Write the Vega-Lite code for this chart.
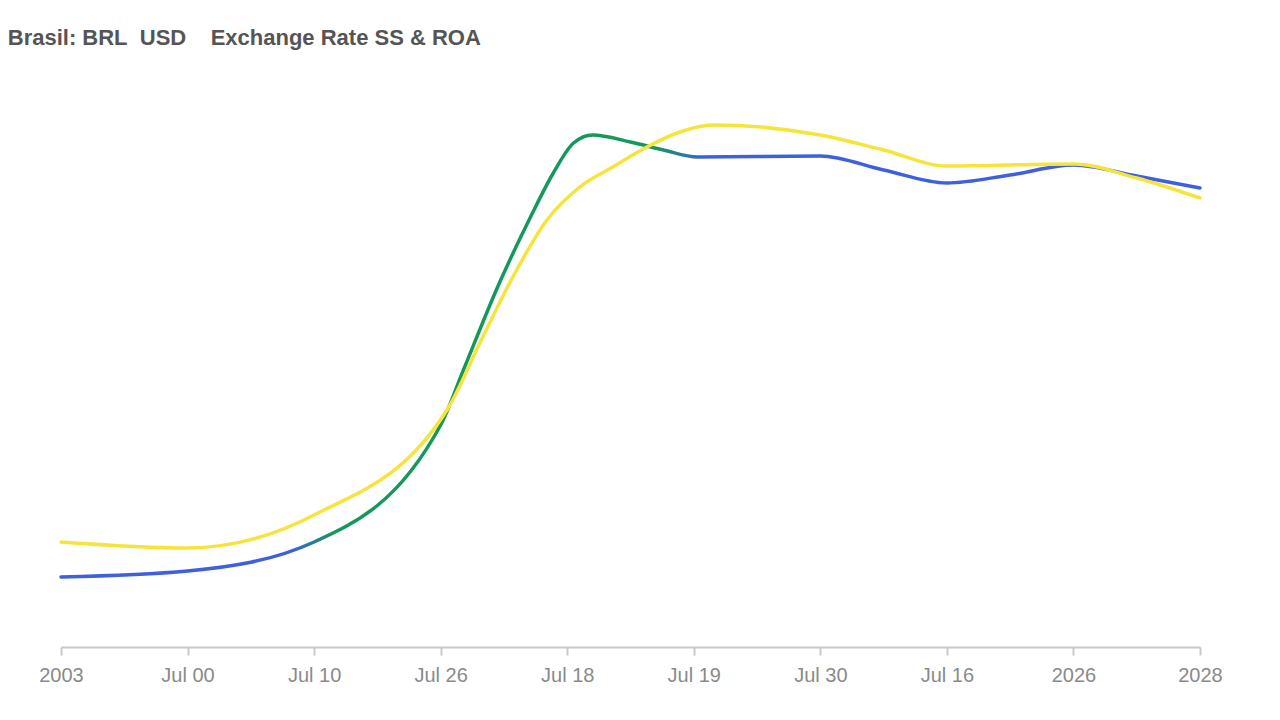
{
  "$schema": "https://vega.github.io/schema/vega-lite/v6.json",
  "autosize": {"type": "none"},
  "width": 1139,
  "height": 567,
  "padding": {"left": 61, "top": 80, "right": 80, "bottom": 73},
  "background": "#ffffff",
  "config": {"view": {"stroke": null}, "font": "Liberation Sans"},
  "title": {
    "text": "Brasil: BRL\u00a0\u00a0USD\u00a0\u00a0\u00a0\u00a0Exchange Rate SS & ROA",
    "anchor": "start",
    "dx": -31,
    "offset": 30,
    "fontSize": 22,
    "fontWeight": "bold",
    "color": "#555555",
    "font": "Liberation Sans"
  },
  "datasets": {
    "main": [
      {"t": 0, "v": 1.70},
      {"t": 1, "v": 1.76},
      {"t": 2, "v": 2.05},
      {"t": 3, "v": 3.22},
      {"t": 3.18, "v": 3.77},
      {"t": 3.45, "v": 4.60},
      {"t": 3.71, "v": 5.30},
      {"t": 3.89, "v": 5.74},
      {"t": 4.05, "v": 6.04},
      {"t": 4.2, "v": 6.12},
      {"t": 4.5, "v": 6.05},
      {"t": 4.76, "v": 5.97},
      {"t": 5.03, "v": 5.90},
      {"t": 6, "v": 5.91},
      {"t": 6.5, "v": 5.77},
      {"t": 7, "v": 5.64},
      {"t": 7.5, "v": 5.72},
      {"t": 8, "v": 5.82},
      {"t": 8.5, "v": 5.71},
      {"t": 9, "v": 5.59}
    ],
    "yellow": [
      {"t": 0, "v": 2.05},
      {"t": 1, "v": 1.99},
      {"t": 2, "v": 2.32},
      {"t": 3.05, "v": 3.37},
      {"t": 3.31, "v": 4.04},
      {"t": 3.57, "v": 4.70},
      {"t": 3.84, "v": 5.27},
      {"t": 4.1, "v": 5.60},
      {"t": 4.36, "v": 5.80},
      {"t": 4.63, "v": 6.00},
      {"t": 4.89, "v": 6.15},
      {"t": 5.15, "v": 6.22},
      {"t": 6, "v": 6.12},
      {"t": 6.5, "v": 5.97},
      {"t": 7, "v": 5.81},
      {"t": 8, "v": 5.83},
      {"t": 8.5, "v": 5.69},
      {"t": 9, "v": 5.49}
    ]
  },
  "layer": [
    {
      "data": {"name": "main"},
      "mark": {
        "type": "line", "interpolate": "monotone", "strokeWidth": 3.5, "strokeCap": "round",
        "color": {
          "gradient": "linear", "x1": 0, "x2": 1, "y1": 0, "y2": 0,
          "stops": [
            {"offset": 0, "color": "#3d5fe0"},
            {"offset": 0.2, "color": "#3d5fe0"},
            {"offset": 0.24, "color": "#14985c"},
            {"offset": 0.52, "color": "#14985c"},
            {"offset": 0.57, "color": "#3d5fe0"},
            {"offset": 1, "color": "#3d5fe0"}
          ]
        }
      },
      "encoding": {
        "x": {
          "field": "t", "type": "quantitative",
          "scale": {"domain": [0, 9], "nice": false, "zero": false},
          "axis": {
            "title": null,
            "values": [0, 1, 2, 3, 4, 5, 6, 7, 8, 9],
            "labelExpr": "['2003','Jul 00','Jul 10','Jul 26','Jul 18','Jul 19','Jul 30','Jul 16','2026','2028'][datum.value]",
            "grid": false,
            "domainColor": "#c8c8c8",
            "domainWidth": 2,
            "tickColor": "#c8c8c8",
            "tickWidth": 2,
            "tickSize": 8,
            "labelFontSize": 20,
            "labelColor": "#8a8a8a",
            "labelPadding": 10,
            "labelFont": "Liberation Sans",
            "labelFlush": false
          }
        },
        "y": {
          "field": "v", "type": "quantitative",
          "scale": {"domain": [1, 6.67], "nice": false, "zero": false},
          "axis": null
        }
      }
    },
    {
      "data": {"name": "yellow"},
      "mark": {"type": "line", "interpolate": "monotone", "strokeWidth": 3.5, "color": "#f7e43a", "strokeCap": "round"},
      "encoding": {
        "x": {"field": "t", "type": "quantitative"},
        "y": {"field": "v", "type": "quantitative"}
      }
    }
  ]
}
